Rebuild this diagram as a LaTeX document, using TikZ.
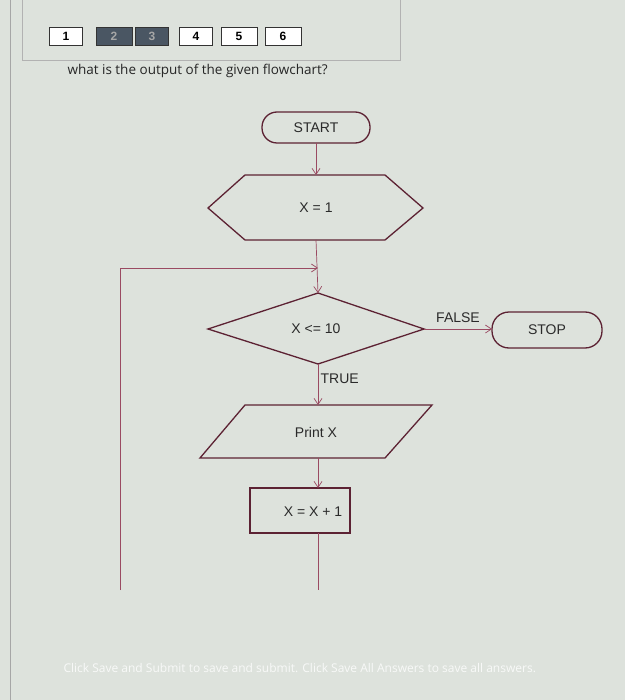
\documentclass[tikz,border=0pt]{standalone}
\usepackage{fontspec}
\setmainfont{Liberation Sans}
\newfontfamily\qfont{Open Sans}
\usetikzlibrary{arrows.meta}
\definecolor{bg}{HTML}{DDE2DC}
\definecolor{shp}{HTML}{5C2233}
\definecolor{con}{HTML}{9A4A62}
\definecolor{txt}{HTML}{2A2A2A}
\definecolor{dbtn}{HTML}{4A5663}
\begin{document}
\begin{tikzpicture}[x=1pt,y=-1pt,
  fshape/.style={draw=shp,line width=1.3pt},
  conn/.style={draw=con,line width=0.7pt},
  arr/.style={conn,-{Straight Barb[length=6pt,width=8pt]}},
  lbl/.style={font=\fontsize{14}{14}\selectfont,text=txt},
  btn/.style={draw=black!80,line width=0.8pt,fill=white,minimum width=33pt,minimum height=18pt,inner sep=0pt,font=\bfseries\fontsize{12}{12}\selectfont},
  btnd/.style={btn,fill=dbtn,text=gray!70}]
\useasboundingbox (0,0) rectangle (625,700);
\fill[bg] (0,0) rectangle (625,700);
\draw[gray!70,line width=1pt] (10,0) -- (10,700);
\draw[gray!60,line width=0.6pt] (22,0) -- (22,60) -- (400,60) -- (400,0);
\node[btn] (b1) at (66,36) {1};
\node[btnd,minimum width=36pt] (b2) at (114,36) {2};
\node[btnd,minimum width=33pt] (b3) at (152,36) {3};
\node[btn] (b4) at (196,36) {4};
\node[btn,minimum width=36pt] (b5) at (239,36) {5};
\node[btn,minimum width=36pt] (b6) at (283,36) {6};
\node[anchor=west,font=\qfont\fontsize{13.5}{13.5}\selectfont,text=black!85] (q) at (64,71) {what is the output of the given flowchart?};
% shapes
\draw[fshape,rounded corners=15pt] (262,112) rectangle (370,143);
\node[lbl] (start) at (316,128) {START};
\coordinate (startS) at (316,143);
\draw[fshape] (208,208) -- (245,175) -- (385,175) -- (423,208) -- (385,240) -- (245,240) -- cycle;
\node[lbl] (x1) at (316,208) {X = 1};
\coordinate (hexN) at (316,175);
\coordinate (hexS) at (316,240);
\draw[fshape] (208,329) -- (318,293) -- (424,329) -- (318,364) -- cycle;
\node[lbl] (cond) at (316,329) {X <= 10};
\coordinate (diaN) at (318,293);
\coordinate (diaS) at (318,364);
\coordinate (diaE) at (424,329);
\draw[fshape,rounded corners=17pt] (492,312) rectangle (602,348);
\node[lbl] (stop) at (547,330) {STOP};
\coordinate (stopW) at (492,329);
\draw[fshape] (245,405) -- (432,405) -- (385,458) -- (200,458) -- cycle;
\node[lbl] (pr) at (316,432) {Print X};
\coordinate (prN) at (318,405);
\coordinate (prS) at (318,458);
\draw[fshape] (250,488) rectangle (350,533);
\node[lbl] (inc) at (313,512) {X = X + 1};
\coordinate (incN) at (318,488);
\coordinate (incS) at (318,533);
\coordinate (join) at (318,268);
\coordinate (loopB) at (318,590);
\coordinate (loopL) at (120,590);
\coordinate (loopT) at (120,268);
% connectors
\draw[arr] (startS) -- (hexN);
\draw[arr] (hexS) -- (diaN);
\draw[arr] (loopT) -- (join);
\draw[conn] (loopL) -- (loopT);
\draw[arr] (diaE) -- node[lbl,above=3pt,pos=0.5] (fl) {FALSE} (stopW);
\draw[arr] (diaS) -- node[lbl,right=-1pt,pos=0.35] (tr) {TRUE} (prN);
\draw[arr] (prS) -- (incN);
\draw[conn] (incS) -- (loopB);
\node[anchor=west,text=white!80!bg,font=\qfont\fontsize{12}{12}\selectfont] (foot) at (60,668) {Click Save and Submit to save and submit. Click Save All Answers to save all answers.};
\end{tikzpicture}
\end{document}
